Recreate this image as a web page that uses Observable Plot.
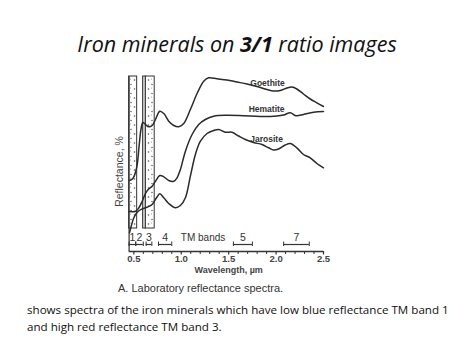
<!DOCTYPE html>
<html>
<head>
<meta charset="utf-8">
<script src="https://cdn.jsdelivr.net/npm/d3@7"></script>
<script src="https://cdn.jsdelivr.net/npm/@observablehq/plot@0.6"></script>
<style>
  html, body { margin: 0; padding: 0; background: #fff; }
  #page { position: relative; width: 474px; height: 355px; overflow: hidden; background: #fff; }
  #title { position: absolute; left: 0; width: 474px; top: 29px; text-align: center;
           font-family: "Open Sans", sans-serif; font-style: italic; font-size: 21.5px; color: #111; }
  #title b { font-weight: 700; }
  #chart { position: absolute; left: 0; top: 60px; }
  #caption { position: absolute; left: 118px; top: 282px; font-family: "Liberation Sans", Arial, sans-serif;
             font-size: 11px; color: #333; }
  #body { position: absolute; left: 27px; top: 301px; width: 445px; font-family: "Open Sans", sans-serif;
          font-size: 11.6px; line-height: 17px; color: #111; }
</style>
</head>
<body>
<div id="page">
  <div id="title">Iron minerals on <b>3/1</b> ratio images</div>
  <div id="chart"></div>
  <div id="caption">A. Laboratory reflectance spectra.</div>
  <div id="body">shows spectra of the iron minerals which have low blue reflectance TM band 1 and high red reflectance TM band 3.</div>
</div>
<script>
// Wavelength (µm) samples and relative reflectance
const goethiteWl = [0.454,0.49,0.53,0.555,0.575,0.595,0.623,0.658,0.693,0.728,0.774,0.816,0.868,0.921,0.974,1.026,1.096,1.167,1.237,1.289,1.377,1.482,1.588,1.693,1.798,1.904,1.974,2.044,2.114,2.167,2.219,2.289,2.36,2.43,2.5];
const goethiteR  = [71,73,84,105,122,129,127,124.7,126,132,140.3,138,130.3,126,124.7,128,142,158,170.3,173.7,172.7,171.5,169.5,167.5,165,162,160.5,161,163.5,164.5,162.5,157.5,152.5,148.7,145];

const hematiteWl = [0.454,0.518,0.553,0.588,0.623,0.658,0.693,0.728,0.774,0.816,0.868,0.921,0.956,0.991,1.044,1.114,1.184,1.254,1.342,1.482,1.658,1.833,2.009,2.079,2.149,2.212,2.289,2.395,2.5];
const hematiteR  = [40,40.3,43.7,50.3,58,62.7,65.3,70.3,76,74.7,71,70.3,73.7,82,100.3,117,127,132,135.3,136.2,135.7,135,135.5,136.5,138.7,135.7,137,139.3,140];

const jarositeWl = [0.454,0.472,0.5,0.535,0.588,0.64,0.693,0.739,0.774,0.816,0.868,0.939,0.991,1.044,1.096,1.149,1.202,1.272,1.342,1.395,1.465,1.535,1.605,1.675,1.763,1.851,1.921,1.974,2.026,2.096,2.149,2.219,2.289,2.36,2.43,2.5];
const jarositeR  = [18.7,25.3,33.7,39.3,42.7,44.3,47,53.7,57.7,53.7,48,43.7,46,53.7,75.3,97,110.3,118,121,122,119.3,119.3,115.5,112,109,107,103.7,101.5,102.5,106.5,108,103.7,97,93.7,88,83.7];

const mineralNames = ["Goethite", "Hematite", "Jarosite"];
const labelWl = [1.91, 1.90, 1.90];
const labelR  = [168.5, 141.8, 112.5];

// Landsat TM bands (µm)
const bandNames = ["1", "2", "3", "4", "5", "7"];
const bandStart = [0.45, 0.52, 0.63, 0.76, 1.55, 2.08];
const bandEnd   = [0.52, 0.60, 0.69, 0.90, 1.75, 2.35];

// Shaded (stippled) band boxes in the figure
const boxStart = [0.45, 0.626];
const boxEnd   = [0.535, 0.72];
const stripStart = [0.598];
const stripEnd = [0.626];

const majorTicks = [0.5, 1.0, 1.5, 2.0, 2.5];
const majorLabels = ["0.5", "1.0", "1.5", "2.0", "2.5"];
const minorTicks = [0.6,0.7,0.8,0.9,1.1,1.2,1.3,1.4,1.6,1.7,1.8,1.9,2.1,2.2,2.3,2.4];

const xTitle = "Wavelength, µm";
const yTitle = "Reflectance, %";

const spectra = [
  ...goethiteWl.map((w, i) => ({name: "Goethite", wl: w, r: goethiteR[i]})),
  ...hematiteWl.map((w, i) => ({name: "Hematite", wl: w, r: hematiteR[i]})),
  ...jarositeWl.map((w, i) => ({name: "Jarosite", wl: w, r: jarositeR[i]}))
];
const labels = mineralNames.map((n, i) => ({name: n, wl: labelWl[i], r: labelR[i]}));
const bands = bandNames.map((n, i) => ({name: n, x1: bandStart[i], x2: bandEnd[i]}));
const boxes = boxStart.map((s, i) => ({x1: s, x2: boxEnd[i]}));
const strips = stripStart.map((s, i) => ({x1: s, x2: stripEnd[i]}));

const boxTop = 175, boxBottom = 23, bandY = 7, bandLabelY = 14;
const ink = "#333";

const chart = Plot.plot({
  width: 474,
  height: 220,
  marginLeft: 128.6,
  marginRight: 151,
  marginTop: 16,
  marginBottom: 29,
  x: {type: "linear", domain: [0.45, 2.5], axis: null},
  y: {type: "linear", domain: [0, 175], axis: null},
  style: {fontFamily: "Liberation Sans, Arial, sans-serif", color: ink, background: "transparent"},
  marks: [
    // stippled boxes
    Plot.rect(boxes, {x1: "x1", x2: "x2", y1: () => boxBottom, y2: () => boxTop, fill: "url(#stipple)", stroke: ink, strokeWidth: 1}),
    Plot.rect(strips, {x1: "x1", x2: "x2", y1: () => boxBottom, y2: () => boxTop, fill: "#d8d8d8", stroke: ink, strokeWidth: 1}),
    // left frame line
    Plot.ruleX([0.45], {y1: () => 0, y2: () => boxTop, stroke: ink, strokeWidth: 1.2}),
    // x axis line
    Plot.ruleY([0], {x1: () => 0.45, x2: () => 2.5, stroke: ink, strokeWidth: 1.3}),
    Plot.axisX(minorTicks, {tickSize: 3, tickFormat: () => "", stroke: ink, strokeWidth: 1}),
    Plot.axisX(majorTicks, {tickSize: 3.5, tickPadding: 0, tickFormat: (d, i) => majorLabels[i], fontSize: 9.5, fontWeight: "bold", fill: "#444", stroke: ink, strokeWidth: 1.2}),
    Plot.text([xTitle], {x: () => 1.5, y: () => 0, dy: 19, fontSize: 9, fontWeight: "bold", fill: "#444"}),
    Plot.text([yTitle], {x: () => 0.45, y: () => 80, dx: -9, rotate: -90, fontSize: 10.5, fill: "#444"}),
    // spectra
    Plot.line(spectra, {x: "wl", y: "r", z: "name", curve: "catmull-rom", stroke: "#2a2a2a", strokeWidth: 1.5}),
    Plot.text(labels, {x: "wl", y: "r", text: "name", fontSize: 8.5, fontWeight: "bold", fill: "#333"}),
    // TM band markers
    Plot.ruleY(bands, {x1: "x1", x2: "x2", y: () => bandY, stroke: ink, strokeWidth: 1.2}),
    Plot.ruleX(bands, {x: "x1", y1: () => bandY - 2, y2: () => bandY + 2.5, stroke: ink, strokeWidth: 1}),
    Plot.ruleX(bands, {x: "x2", y1: () => bandY - 2, y2: () => bandY + 2.5, stroke: ink, strokeWidth: 1}),
    Plot.text(bands, {x: d => (d.x1 + d.x2) / 2, y: () => bandLabelY, text: "name", fontSize: 10.5, fill: ink}),
    Plot.text(["TM bands"], {x: () => 1.23, y: () => bandLabelY, fontSize: 10, fill: ink})
  ]
});

// stipple pattern definition
const svg = d3.select(chart);
const defs = svg.insert("defs", ":first-child");
const pat = defs.append("pattern").attr("id", "stipple").attr("patternUnits", "userSpaceOnUse")
  .attr("width", 7).attr("height", 9);
pat.append("rect").attr("width", 7).attr("height", 9).attr("fill", "#fff");
pat.append("circle").attr("cx", 1.5).attr("cy", 2).attr("r", 0.8).attr("fill", "#555");
pat.append("circle").attr("cx", 5).attr("cy", 6.5).attr("r", 0.8).attr("fill", "#666");
pat.append("circle").attr("cx", 4.5).attr("cy", 1).attr("r", 0.5).attr("fill", "#888");

document.getElementById("chart").appendChild(chart);
</script>
</body>
</html>
